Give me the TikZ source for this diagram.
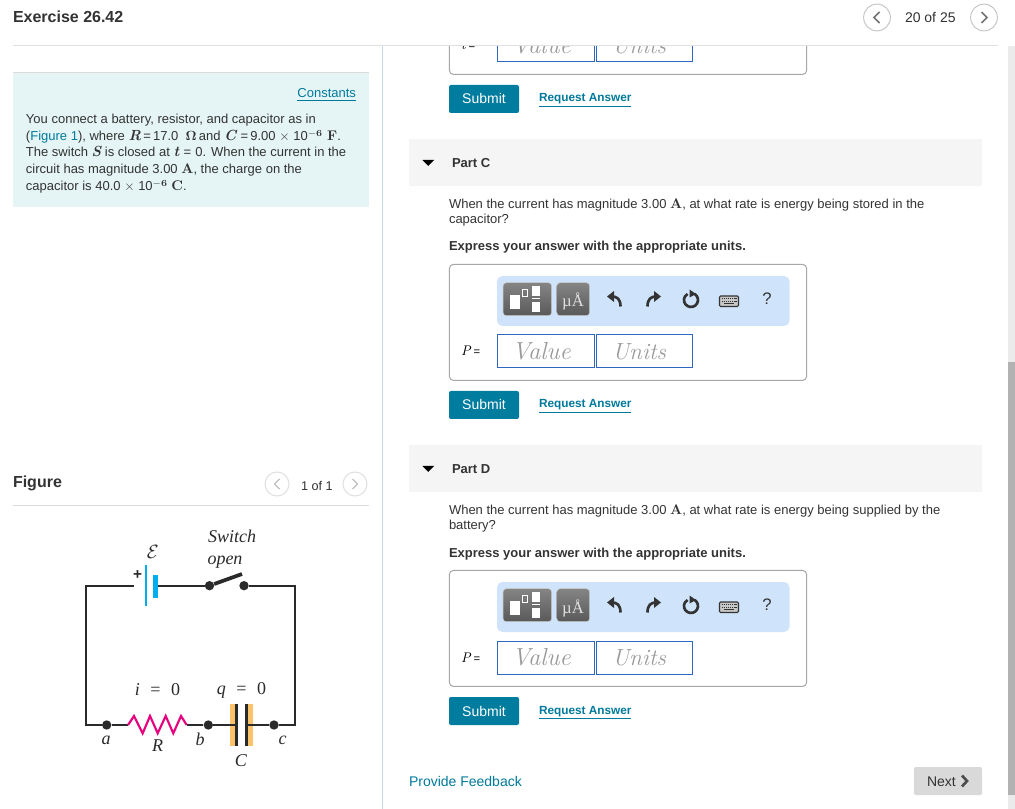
\documentclass[tikz,border=0pt]{standalone}
\usepackage[no-math]{fontspec}
\usepackage{amssymb}
\newfontfamily\lsans{Liberation Sans}
\newfontfamily\lserif{Liberation Serif}
\definecolor{teal}{HTML}{007C9E}
\definecolor{linkc}{HTML}{007A9C}
\definecolor{panelc}{HTML}{E5F5F6}
\definecolor{barc}{HTML}{F5F5F5}
\definecolor{toolc}{HTML}{CFE4FB}
\definecolor{inkc}{HTML}{333333}
\definecolor{inputc}{HTML}{2F66C4}
\definecolor{ph}{HTML}{9A9A9A}
\definecolor{wire}{HTML}{2A2A2A}
\definecolor{magc}{HTML}{E6007E}
\definecolor{batc}{HTML}{00AEEF}
\definecolor{capc}{HTML}{FDC36B}
\definecolor{divc}{HTML}{C3D9EA}
\newcounter{tn}
\newcommand\txt[4][]{\stepcounter{tn}\node[lbl,#1] (t\arabic{tn}) at (#2,#3) {#4};}
\newcommand\fs[1]{\fontsize{#1}{#1}\selectfont}
\newcommand\mbi[1]{{\rmfamily\bfseries\itshape\fs{11}#1}}
\newcommand\mbr[1]{{\rmfamily\bfseries\fs{10.5}#1}}
\tikzset{
  lbl/.style={anchor=base west,inner sep=0pt,outer sep=0pt,font=\lsans\fs{9.75},text=inkc},
  bold/.style={font=\lsans\bfseries\fs{9.75}},
  reqlink/.style={font=\lsans\bfseries\fs{8.85},text=linkc},
  link/.style={text=linkc},
  circ/.style={font=\lserif\itshape\fs{13.5},text=wire,anchor=center},
  circm/.style={font=\lserif\fs{13.5},text=wire,anchor=center},
  dot/.style={circle,fill=wire,inner sep=0pt,minimum size=7pt},
  wr/.style={draw=wire,line width=1.6pt,line join=miter},
  inp/.style={draw=inputc,line width=0.75pt,fill=white,inner sep=0pt,minimum height=24.75pt,font=\rmfamily\itshape\fs{18.5},text=ph,anchor=west},
  ansbox/.style={draw=black!35,line width=0.75pt,rounded corners=3pt,fill=white},
  btn/.style={rounded corners=1.5pt,fill=teal},
  navc/.style={draw=black!22,line width=0.75pt,fill=white},
  chev/.style={draw=black!55,line width=1.3pt},
  tool/.style={rounded corners=2.5pt,top color=black!48,bottom color=black!65,draw=black!20,line width=0.4pt},
  ico/.style={draw=inkc,line width=2pt},
  icof/.style={fill=inkc},
}
\newcommand\anstool[1]{%
\begin{scope}[shift={(0,#1)}]
  \path[fill=toolc,rounded corners=4pt] (497,276) rectangle (789.5,326);
  \path[tool] (503,282.7) rectangle (551.7,315.7);
  \path[tool] (556.7,282.7) rectangle (589.7,315.7);
  \fill[white] (510,295) rectangle (520,309);
  \draw[white,line width=0.6pt] (522.3,289) rectangle (527.5,296);
  \fill[white] (532,286) rectangle (540,295.7);
  \fill[white] (532,297.6) rectangle (540,298.8);
  \fill[white] (532,301.7) rectangle (540,311.7);
  \txt[font=\lserif\fs{12.5},text=black!12,anchor=base]{573}{307}{µÅ}
  % undo
  \draw[ico] (620.5,306.5) .. controls (620.5,299) and (617,296.5) .. (612,296.5);
  \fill[icof] (614,291) -- (607,296.5) -- (614,302) -- cycle;
  % redo
  \draw[ico] (647.5,306.5) .. controls (647.5,299) and (651,296.5) .. (656,296.5);
  \fill[icof] (654,291) -- (661,296.5) -- (654,302) -- cycle;
  % reload
  \draw[ico] (694.5,293.9) arc[start angle=-60,end angle=240,radius=7];
  \fill[icof] (689.5,289.5) -- (696,294) -- (689.5,297.5) -- cycle;
  % keyboard
  \draw[draw=inkc,line width=0.8pt,fill=black!22,rounded corners=0.8pt] (719.5,296) rectangle (738.5,306.5);
  \draw[draw=inkc,line width=0.7pt,dash pattern=on 0.9pt off 0.7pt] (721.5,298.5) -- (736.5,298.5);
  \draw[draw=inkc,line width=0.7pt,dash pattern=on 0.9pt off 0.7pt] (721.5,301) -- (736.5,301);
  \draw[draw=inkc,line width=0.7pt] (724,303.7) -- (734,303.7);
  \txt[font=\lsans\fs{12.5},anchor=base]{767}{304.5}{?}
\end{scope}}
\newcommand\answer[3]{%
\begin{scope}[shift={(0,#1)}]
  \path[ansbox] (449.4,264.4) rectangle (806.6,380.4);
  \txt[font=\rmfamily\fs{10.5},text=black]{461}{356}{\textit{#2}\,{\lsans\fs{8.5}=}}
  \node[inp,minimum width=72.3pt] (#3v) at (497.3,351.5) {Value\hspace*{7pt}};
  \node[inp,minimum width=71.5pt] (#3u) at (596.3,351.5) {\fs{17.5}Units\hspace*{8pt}};
  \path[btn] (449,391) rectangle (519,419);
  \txt[font=\lsans\fs{10.5},text=white,anchor=base]{484}{410}{Submit}
  \txt[reqlink]{539}{408}{\underline{Request Answer}}
\end{scope}}
\newcommand\partbar[3]{%
  \fill[barc] (409,#2) rectangle (982,#2+47);
  \fill[black] (422.5,#2+21) -- (434,#2+21) -- (428.25,#2+27) -- cycle;
  \txt[bold]{452}{#2+28.5}{#1}
  \txt{449}{#2+70}{When the current has magnitude 3.00 \mbr{A}, at what rate is energy being #3}
  \txt[bold]{449}{#2+112}{Express your answer with the appropriate units.}
}
\begin{document}
\begin{tikzpicture}[x=0.75pt,y=-0.75pt]
\useasboundingbox (0,0) rectangle (1015,809);
\fill[white] (0,0) rectangle (1015,809);
% scrollbar
\fill[black!8] (1008,46) rectangle (1015,809);
\fill[black!30] (1008,362) rectangle (1015,795);
% divider
\draw[draw=divc,line width=0.75pt] (382.5,45) -- (382.5,809);
% right pane
\answer{-306}{t}{p}
\partbar{Part C}{139}{stored in the}
\txt{449}{224}{capacitor?}
\answer{0}{P}{c}
\anstool{0}
\partbar{Part D}{445}{supplied by the}
\txt{449}{530}{battery?}
\answer{306}{P}{d}
\anstool{306}
\txt[link,font=\lsans\fs{10.5}]{409}{786}{Provide Feedback}
\fill[black!15,rounded corners=1pt] (914,767) rectangle (982,795);
\txt[font=\lsans\fs{10.5}]{927}{786}{Next}
\draw[draw=black!70,line width=2pt] (962,775.5) -- (967,781) -- (962,786.5);
% header
\fill[white] (0,0) rectangle (1007,45);
\draw[draw=black!12,line width=0.75pt] (13,45.5) -- (998,45.5);
\txt[font=\lsans\bfseries\fs{12}]{13}{23}{Exercise 26.42}
\draw[navc] (877,17.5) circle (13.4);
\draw[navc] (984,17.5) circle (13.4);
\draw[chev] (879.5,12) -- (874,17.5) -- (879.5,23);
\draw[chev] (981.5,12) -- (987,17.5) -- (981.5,23);
\txt[font=\lsans\fs{10.5}]{905}{23}{20 of 25}
% problem panel
\fill[panelc] (13,72) rectangle (369,207);
\draw[draw=black!14,line width=0.75pt] (13,72.5) -- (369,72.5);
\txt[link,anchor=base east]{356}{98}{\underline{Constants}}
\txt{26}{124}{You connect a battery, resistor, and capacitor as in}
\txt{26}{141}{({\color{linkc}Figure 1}), where \mbi{R}\,=\,17.0 \ $\mathbf{\Omega}$\,and \mbi{C}\,\,=\,9.00 $\times$ 10$^{\mathbf{-6}}$\,\,\mbr{F}.}
\txt{26}{157}{The switch \mbi{S} is closed at \mbi{t}\,\,=\,\,0. When the current in the}
\txt{26}{174}{circuit has magnitude 3.00 \mbr{A}, the charge on the}
\txt{26}{191}{capacitor is 40.0 $\times$ 10$^{\mathbf{-6}}$ \mbr{C}.}
% figure heading
\txt[font=\lsans\bfseries\fs{12}]{13}{488}{Figure}
\draw[draw=black!14,line width=0.75pt] (13,505.5) -- (369,505.5);
\draw[navc,draw=black!12] (277,484) circle (12);
\draw[navc,draw=black!12] (355,484) circle (12);
\draw[draw=black!25,line width=1pt] (279.5,479) -- (274.5,484) -- (279.5,489);
\draw[draw=black!25,line width=1pt] (352.5,479) -- (357.5,484) -- (352.5,489);
\txt[font=\lsans\fs{9.5}]{301}{491}{1 of 1}
% circuit
\coordinate (tl) at (85.7,585.7);
\coordinate (tr) at (295,585.7);
\coordinate (bl) at (85.7,725);
\coordinate (br) at (295,725);
\coordinate (batl) at (134,585.7);
\coordinate (batr) at (155,585.7);
\coordinate (resl) at (128,725);
\coordinate (resr) at (186.7,725);
\coordinate (capl) at (236.5,725);
\coordinate (capr) at (246,725);
\coordinate (swtip) at (242,574);
\node[dot] (swa) at (209.5,585.7) {};
\node[dot] (swb) at (244,585.7) {};
\node[dot] (a) at (106.7,725) {};
\node[dot] (b) at (208.3,725) {};
\node[dot] (c) at (274,725) {};
\fill[capc] (229.7,704) rectangle (238,746);
\fill[capc] (245,704) rectangle (253,746);
\draw[wr] (batl) -- (tl) -- (bl) -- (a) -- (resl);
\draw[wr] (batr) -- (swa);
\draw[wr] (swb) -- (tr) -- (br) -- (c) -- (capr);
\draw[wr] (resr) -- (b) -- (capl);
\draw[wr,line width=2.8pt] (swa) -- (swtip);
\draw[draw=magc,line width=1.6pt,line join=miter] (resl) -- (134,716) -- (142.7,733.3) -- (150,716) -- (157.7,733.3) -- (165.7,716) -- (173.3,733.3) -- (181,716) -- (resr);
\fill[wire] (235.4,704) rectangle (238,746);
\fill[wire] (245,704) rectangle (247.6,746);
\draw[draw=batc,line width=1.6pt] (146.3,565) -- (146.3,606);
\fill[batc] (153,575) rectangle (158,598);
\txt[font=\lsans\bfseries\fs{11.5},anchor=center,text=wire]{137.7}{575.5}{+}
\txt[circ]{232}{536.5}{Switch}
\txt[circ]{225}{562.5}{open}
\txt[circ,font=\rmfamily\fs{14}]{152.7}{552}{$\mathcal{E}$}
\txt[circm]{157.5}{690}{\textit{i}\hspace{4.5pt} = \hspace{4.5pt}0}
\txt[circm]{241.5}{690}{\textit{q}\hspace{4.5pt} = \hspace{4.5pt}0}
\txt[circ]{106}{740.5}{a}
\txt[circ]{157.7}{746}{R}
\txt[circ]{200}{739.5}{b}
\txt[circ]{282.7}{740.5}{c}
\txt[circ]{241}{761}{C}
\end{tikzpicture}
\end{document}
